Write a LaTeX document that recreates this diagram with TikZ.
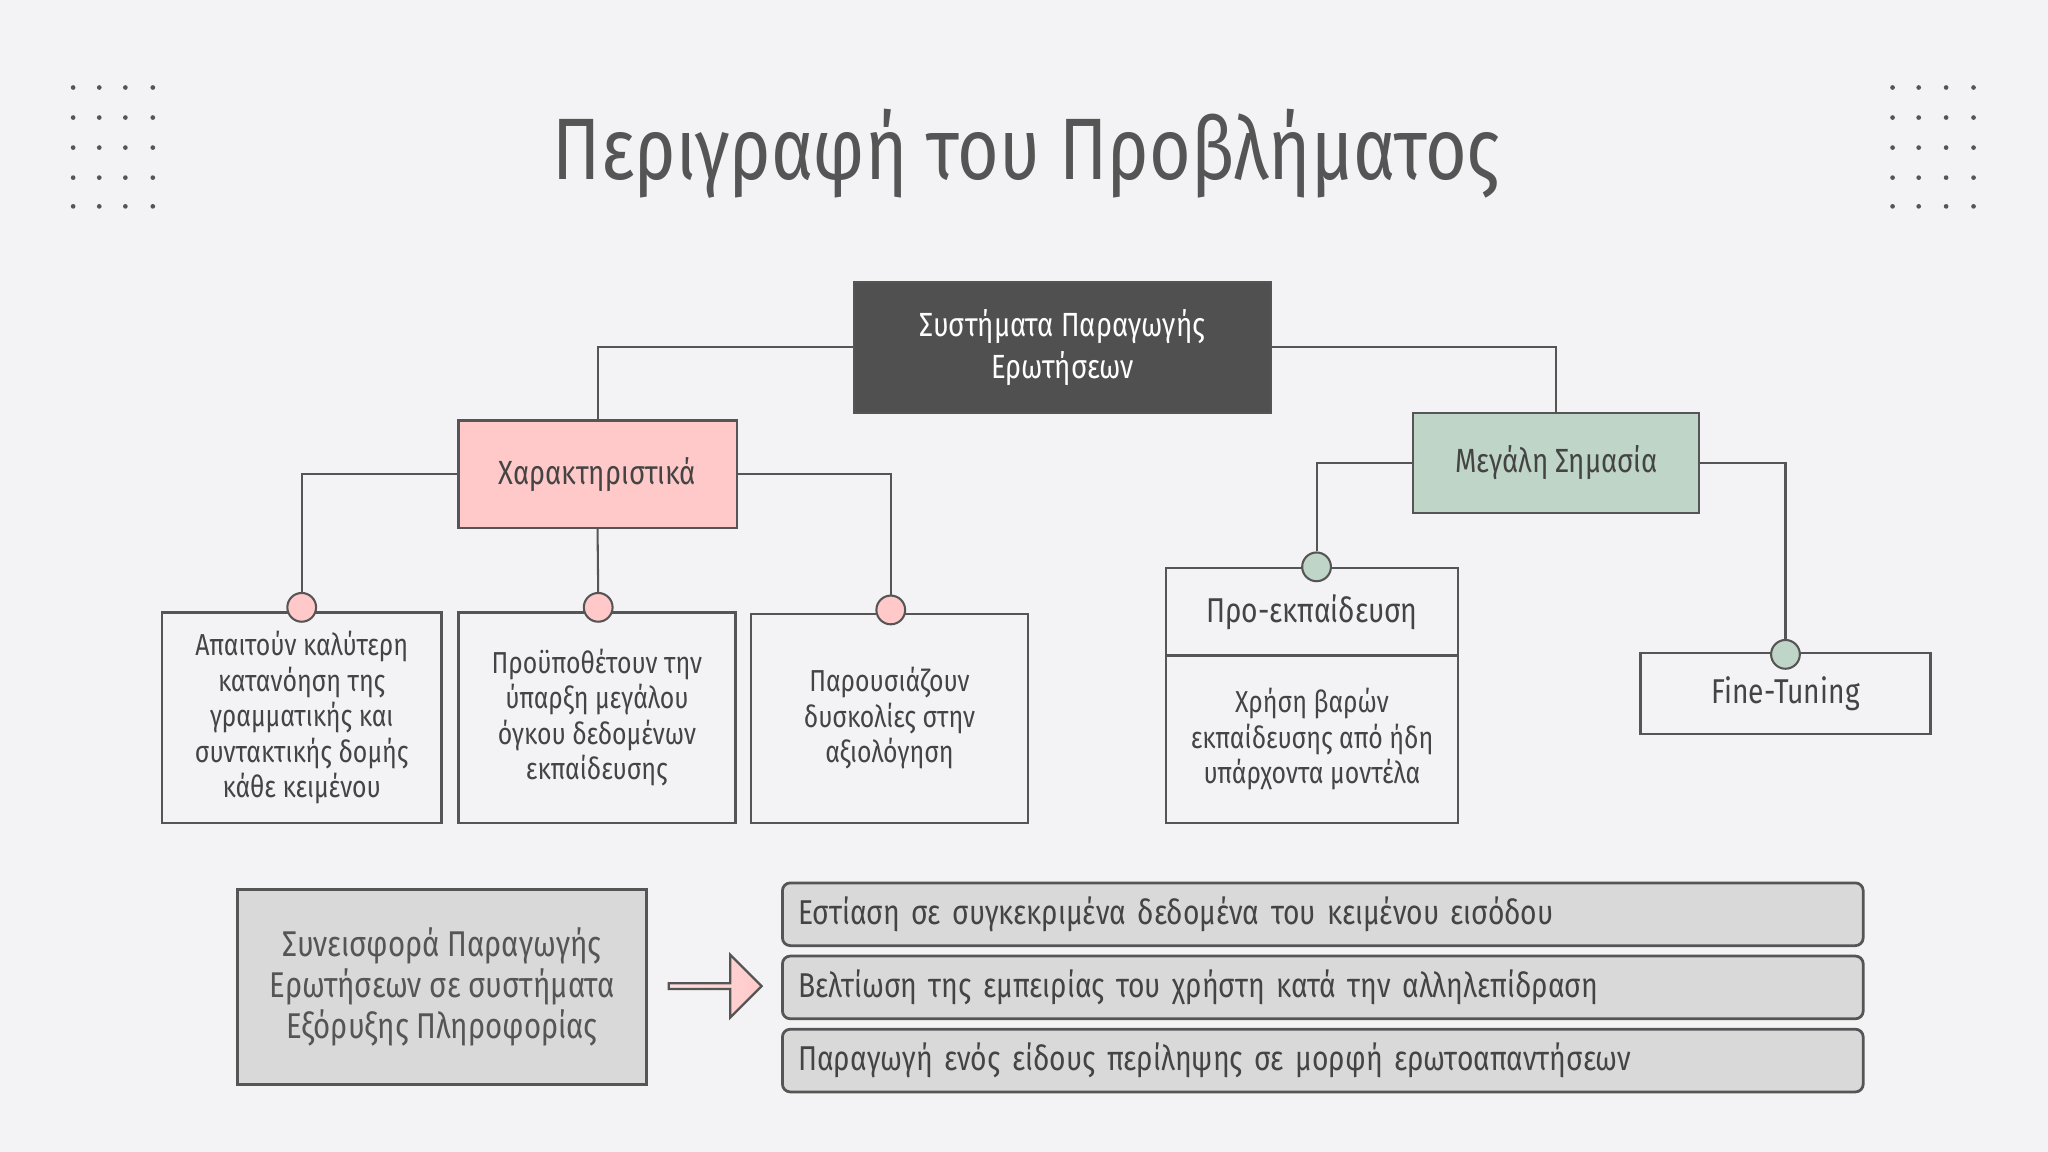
\documentclass[tikz,border=0pt]{standalone}
\usepackage{fontspec}
\setmainfont[FakeStretch=0.82]{Fira Sans}
\usetikzlibrary{shapes.arrows}
\definecolor{bg}{HTML}{F3F3F5}
\definecolor{txt}{HTML}{444444}
\definecolor{dark}{HTML}{505050}
\definecolor{pinkf}{HTML}{FFC9C9}
\definecolor{greenf}{HTML}{BFD5C8}
\definecolor{greyf}{HTML}{D9D9D9}
\definecolor{ln}{HTML}{555555}
\tikzset{
 box/.style={draw=ln,line width=0.5pt,align=center,text=txt,font=\fontsize{6.6}{7.7}\selectfont,inner sep=0pt},
 conn/.style={draw=ln,line width=0.45pt},
 pdot/.style={circle,draw=ln,fill=pinkf,minimum size=0.22cm,inner sep=0pt,line width=0.45pt},
 gdot/.style={circle,draw=ln,fill=greenf,minimum size=0.22cm,inner sep=0pt,line width=0.45pt},
 item/.style={draw=ln,fill=greyf,rounded corners=0.06cm,line width=0.6pt,text=txt,font=\fontsize{7.5}{8.8}\selectfont,anchor=west,minimum width=8.27cm,minimum height=0.48cm,inner sep=0pt,text width=8.03cm,align=left},
}
\begin{document}
\begin{tikzpicture}[x=0.01cm,y=-0.01cm]
\fill[bg] (0,0) rectangle (1568,882);
\useasboundingbox (0,0) rectangle (1568,882);
\foreach \x in {56,76,96,117,1449,1469,1490,1511}
 \foreach \y in {67,90,113,136,158}
  \fill[ln] (\x,\y) circle (0.018cm);
\node[text=ln,font=\fontsize{19}{22}\selectfont] (title) at (786,118) {Περιγραφή του Προβλήματος};
\node[box,fill=dark,text=white,minimum width=3.19cm,minimum height=1.0cm,font=\fontsize{7.3}{9}\selectfont] (top) at (813.5,266) {Συστήματα Παραγωγής\\Ερωτήσεων};
\node[box,fill=pinkf,minimum width=2.13cm,minimum height=0.82cm,font=\fontsize{7.3}{8.7}\selectfont] (char) at (457.5,363) {Χαρακτηριστικά};
\node[box,fill=greenf,minimum width=2.19cm,minimum height=0.77cm,font=\fontsize{7.3}{8.7}\selectfont] (imp) at (1191.5,354.5) {Μεγάλη Σημασία};
\node[box,minimum width=2.14cm,minimum height=1.61cm] (l1) at (231,549.5) {Απαιτούν καλύτερη\\κατανόηση της\\γραμματικής και\\συντακτικής δομής\\κάθε κειμένου};
\node[box,minimum width=2.12cm,minimum height=1.61cm] (l2) at (457,549.5) {Προϋποθέτουν την\\ύπαρξη μεγάλου\\όγκου δεδομένων\\εκπαίδευσης};
\node[box,minimum width=2.12cm,minimum height=1.60cm] (l3) at (681,550) {Παρουσιάζουν\\δυσκολίες στην\\αξιολόγηση};
\node[box,minimum width=2.23cm,minimum height=0.67cm,font=\fontsize{7.5}{8.5}\selectfont] (pre) at (1004.5,468.5) {Προ-εκπαίδευση};
\node[box,minimum width=2.23cm,minimum height=1.28cm] (preb) at (1004.5,566) {Χρήση βαρών\\εκπαίδευσης από ήδη\\υπάρχοντα μοντέλα};
\node[box,minimum width=2.22cm,minimum height=0.62cm,font=\fontsize{7.5}{8.5}\selectfont] (ft) at (1367,531) {Fine-Tuning};
\node[pdot] (c1) at (231,465) {};
\node[pdot] (c2) at (458,465) {};
\node[pdot] (c3) at (682,467) {};
\node[gdot] (c4) at (1008,434) {};
\node[gdot] (c5) at (1367,501) {};
\draw[conn] (top.west) -| (char.north);
\draw[conn] (top.east) -| (imp.north);
\draw[conn] (char.west) -| (c1.north);
\draw[conn] (char.south) -- (c2.north);
\draw[conn] (char.east) -| (c3.north);
\draw[conn] (imp.west) -| (c4.north);
\draw[conn] (imp.east) -| (c5.north);
\node[box,fill=greyf,text=ln,minimum width=3.13cm,minimum height=1.49cm,font=\fontsize{7.8}{9}\selectfont,line width=0.7pt] (contr) at (338.5,755.5) {Συνεισφορά Παραγωγής\\Ερωτήσεων σε συστήματα\\Εξόρυξης Πληροφορίας};
\node[single arrow,draw=ln,left color=pinkf!60!white,right color=pinkf,minimum height=0.71cm,minimum width=0.48cm,single arrow head extend=0.09cm,inner sep=0pt,line width=0.5pt] (arr) at (546.5,755) {};
\node[item] (i1) at (598,700) {Εστίαση σε συγκεκριμένα δεδομένα του κειμένου εισόδου};
\node[item] (i2) at (598,756) {Βελτίωση της εμπειρίας του χρήστη κατά την αλληλεπίδραση};
\node[item] (i3) at (598,812) {Παραγωγή ενός είδους περίληψης σε μορφή ερωτοαπαντήσεων};
\end{tikzpicture}
\end{document}
